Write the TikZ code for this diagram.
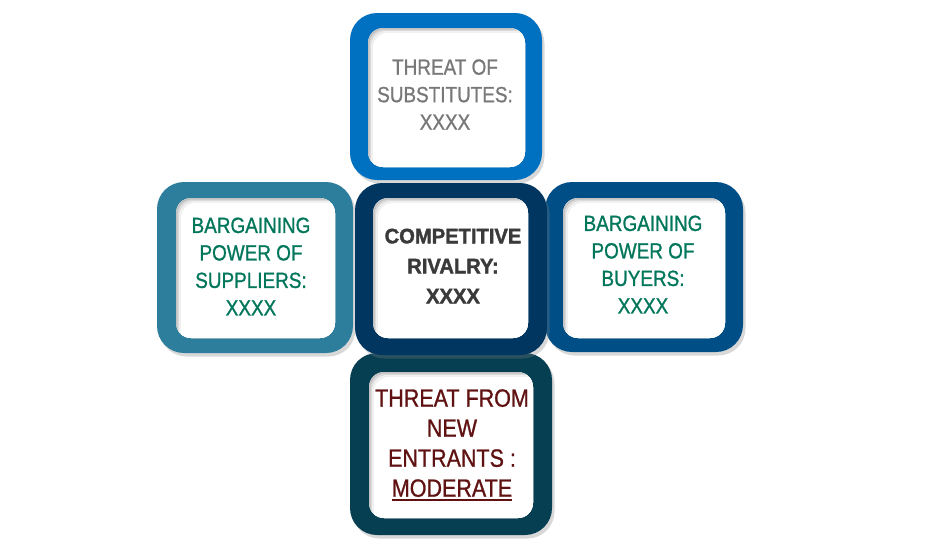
\documentclass[tikz,border=0pt]{standalone}
\usepackage{fontspec}
\setmainfont[FakeStretch=0.86,FakeBold=0.9]{Liberation Sans}
\newfontfamily\cfont[FakeStretch=0.96,FakeBold=1.6]{Liberation Sans}
\usetikzlibrary{shadows}
\definecolor{cTop}{RGB}{0,112,192}
\definecolor{cLeft}{RGB}{44,126,156}
\definecolor{cMid}{RGB}{0,54,95}
\definecolor{cRight}{RGB}{0,78,134}
\definecolor{cBot}{RGB}{6,62,82}
\definecolor{tGray}{RGB}{120,120,120}
\definecolor{tGreen}{RGB}{0,118,90}
\definecolor{tDark}{RGB}{58,58,58}
\definecolor{tRed}{RGB}{96,18,18}
\newcommand\myul[1]{\setbox0\hbox{#1}\copy0\kern-\wd0\rule[-4pt]{\wd0}{1.3pt}}
\begin{document}
\begin{tikzpicture}[x=1pt,y=-1pt,
  frame/.style={rectangle, rounded corners=27pt, fill=#1, inner sep=0pt,
    drop shadow={shadow xshift=2.5pt, shadow yshift=-3.5pt, opacity=0.3}},
  panel/.style={rectangle, rounded corners=15pt, fill=white, inner sep=0pt,
    path picture={
      \fill[black!24] (path picture bounding box.south west) rectangle (path picture bounding box.north east);
      \fill[black!14,rounded corners=15pt] ([xshift=1.5pt,yshift=-1.5pt]path picture bounding box.north west) rectangle ([xshift=14pt,yshift=-14pt]path picture bounding box.south east);
      \fill[black!6,rounded corners=15pt] ([xshift=3pt,yshift=-3pt]path picture bounding box.north west) rectangle ([xshift=14pt,yshift=-14pt]path picture bounding box.south east);
      \fill[white,rounded corners=15pt] ([xshift=5pt,yshift=-5pt]path picture bounding box.north west) rectangle ([xshift=14pt,yshift=-14pt]path picture bounding box.south east);
    }},
  lbl/.style={align=center, inner sep=0pt, font=\fontsize{22}{27.5}\selectfont}
]
\useasboundingbox[fill=white] (0,0) rectangle (940,550);
% top
\node[frame=cTop, minimum width=192pt, minimum height=167pt] (tframe) at (446,96.5) {};
\node[panel, minimum width=157pt, minimum height=139pt] (tpanel) at (446.5,97.5) {};
\node[lbl, text=tGray] (ttext) at (445,94.5) {THREAT OF\\SUBSTITUTES:\\XXXX};
% left
\node[frame=cLeft, minimum width=196pt, minimum height=171pt] (lframe) at (255,267.5) {};
\node[panel, minimum width=159pt, minimum height=140pt] (lpanel) at (255.5,268) {};
\node[lbl, text=tGreen] (ltext) at (251,266.5) {BARGAINING\\POWER OF\\SUPPLIERS:\\XXXX};
% right
\node[frame=cRight, minimum width=198pt, minimum height=170pt] (rframe) at (644,267) {};
\node[panel, minimum width=162pt, minimum height=140pt] (rpanel) at (644,268) {};
\node[lbl, text=tGreen] (rtext) at (643,264.5) {BARGAINING\\POWER OF\\BUYERS:\\XXXX};
% bottom
\node[frame=cBot, minimum width=202pt, minimum height=182pt] (bframe) at (451,444) {};
\node[panel, minimum width=164pt, minimum height=146pt] (bpanel) at (451,445) {};
\node[lbl, text=tRed, font=\fontsize{25}{30}\selectfont] (btext) at (452,445) {THREAT FROM\\NEW\\ENTRANTS :\\\myul{MODERATE}};
% center
\node[frame=cMid, minimum width=192pt, minimum height=172pt] (cframe) at (451,269) {};
\node[panel, minimum width=155pt, minimum height=140pt] (cpanel) at (450.5,268) {};
\node[lbl, text=tDark, font=\cfont\bfseries\fontsize{21}{30}\selectfont] (ctext) at (453,266) {COMPETITIVE\\RIVALRY:\\XXXX};
\end{tikzpicture}
\end{document}
